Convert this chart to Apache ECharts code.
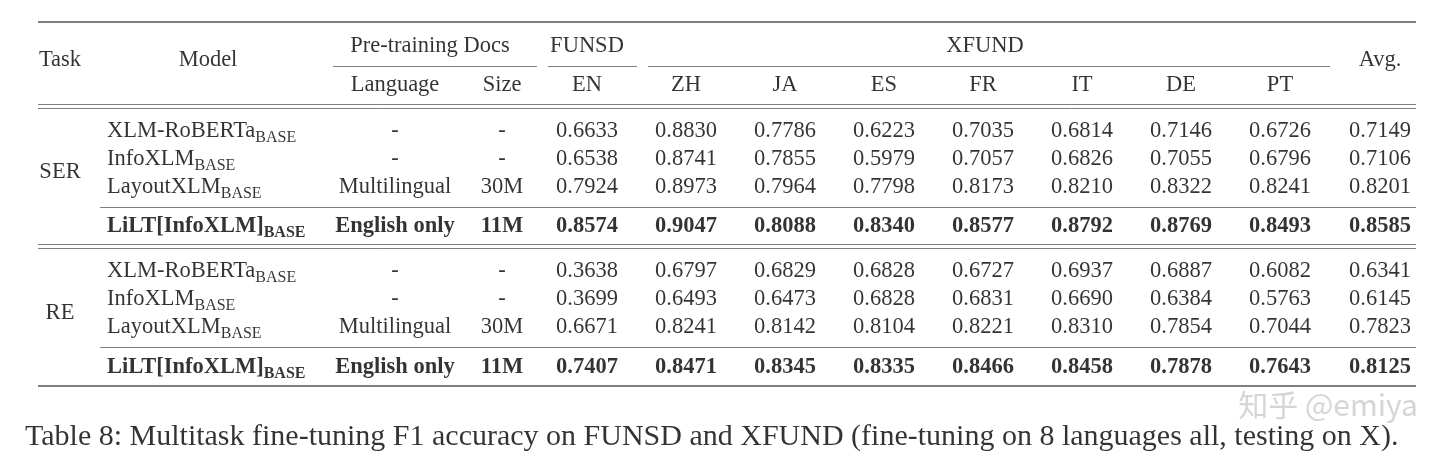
<!DOCTYPE html>
<html><head><meta charset="utf-8">
<script src="https://cdn.jsdelivr.net/npm/echarts@6/dist/echarts.min.js"></script>
<style>html,body{margin:0;padding:0;background:#fff}#c{width:1440px;height:468px}</style>
</head><body><div id="c"></div>
<script>
// ---- data ----
const tasks = ['SER', 'RE'];
const models = ['XLM-RoBERTa', 'InfoXLM', 'LayoutXLM', 'LiLT[InfoXLM]'];
const modelSub = 'BASE';
const languages = ['-', '-', 'Multilingual', 'English only'];
const sizes = ['-', '-', '30M', '11M'];
const langCols = ['EN', 'ZH', 'JA', 'ES', 'FR', 'IT', 'DE', 'PT'];
const serValues = [
  ['0.6633','0.8830','0.7786','0.6223','0.7035','0.6814','0.7146','0.6726','0.7149'],
  ['0.6538','0.8741','0.7855','0.5979','0.7057','0.6826','0.7055','0.6796','0.7106'],
  ['0.7924','0.8973','0.7964','0.7798','0.8173','0.8210','0.8322','0.8241','0.8201'],
  ['0.8574','0.9047','0.8088','0.8340','0.8577','0.8792','0.8769','0.8493','0.8585']
];
const reValues = [
  ['0.3638','0.6797','0.6829','0.6828','0.6727','0.6937','0.6887','0.6082','0.6341'],
  ['0.3699','0.6493','0.6473','0.6828','0.6831','0.6690','0.6384','0.5763','0.6145'],
  ['0.6671','0.8241','0.8142','0.8104','0.8221','0.8310','0.7854','0.7044','0.7823'],
  ['0.7407','0.8471','0.8345','0.8335','0.8466','0.8458','0.7878','0.7643','0.8125']
];
const headerTop = ['Task','Model','Pre-training Docs','FUNSD','XFUND','Avg.'];
const subHeaders = ['Language','Size'];
const caption = 'Table 8: Multitask fine-tuning F1 accuracy on FUNSD and XFUND (fine-tuning on 8 languages all, testing on X).';
const watermark = '知乎 @emiya';

// ---- layout ----
const F = 'Liberation Serif, Times New Roman, serif';
const FS = 22.5;
const colX = {task:60, model:107, lang:395, size:502, vals:[587,686,785,884,983,1082,1181,1280,1380]};
const rowY = [[131,159,187,226],[271,299,327,367]];
const taskY = [172,313];

const pts = [];
function T(x, y, t, opt) { pts.push({value:[x,y], t:t, label:Object.assign({}, opt||{})}); }

T(colX.task, 60, headerTop[0]);
T(208, 60, headerTop[1]);
T(430, 46, headerTop[2]);
T(587, 46, headerTop[3]);
T(985, 46, headerTop[4]);
T(1380, 60, headerTop[5]);
T(colX.lang, 85, subHeaders[0]);
T(colX.size, 85, subHeaders[1]);
langCols.forEach((c,i)=>T(colX.vals[i], 85, c));

[serValues, reValues].forEach((vals, g) => {
  T(colX.task, taskY[g], tasks[g]);
  vals.forEach((row, r) => {
    const bold = r === 3;
    const fw = bold ? 'bold' : 'normal';
    const y = rowY[g][r];
    pts.push({value:[colX.model, y], t:'{n|' + models[r] + '}{s|' + modelSub + '}',
      label:{position:'right', distance:0, rich:{
        n:{fontFamily:F, fontSize:FS, fontWeight:fw, color:'#000', lineHeight:24},
        s:{fontFamily:F, fontSize:16, fontWeight:fw, color:'#000', lineHeight:24, padding:[14,0,0,0]}}}});
    T(colX.lang, y, languages[r], {fontWeight:fw});
    T(colX.size, y, sizes[r], {fontWeight:fw});
    row.forEach((v,i)=>T(colX.vals[i], y, v, {fontWeight:fw}));
  });
});
pts.push({value:[25,437], t:caption, label:{position:'right', distance:0, fontSize:30}});
pts.push({value:[1328,405], t:watermark, label:{fontSize:30, color:'rgba(160,160,160,0.55)', fontFamily:'Noto Sans CJK SC'}});

const L = (x1,x2,y,w)=>({coords:[[x1,y],[x2,y]], lineStyle:{width:w, color:'#000'}});
const rules = [L(38,1416,22,2), L(38,1416,104,1), L(38,1416,108,1), L(333,537,66,1), L(548,637,66,1), L(648,1330,66,1),
  L(100,1416,207,1), L(38,1416,244,1), L(38,1416,248,1), L(100,1416,347,1), L(38,1416,386,2)];

const chart = echarts.init(document.getElementById('c'));
chart.setOption({
  animation:false,
  grid:{left:0,right:0,top:0,bottom:0},
  xAxis:{type:'value', min:0, max:1440, show:false},
  yAxis:{type:'value', min:0, max:468, inverse:true, show:false},
  series:[
    {type:'lines', coordinateSystem:'cartesian2d', polyline:false, silent:true, data:rules, lineStyle:{color:'#000'}},
    {type:'scatter', symbolSize:0, silent:true, data:pts,
     label:{show:true, position:'inside', fontFamily:F, fontSize:FS, color:'#000', formatter:p=>p.data.t}}
  ]
});
</script></body></html>
